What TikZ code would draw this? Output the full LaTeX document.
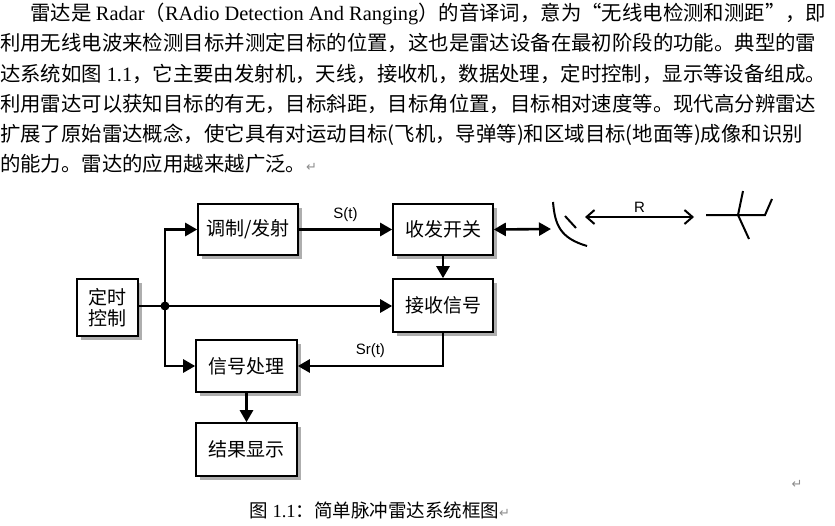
\documentclass[tikz,border=0pt]{standalone}
\usepackage{fontspec}
\setmainfont{Liberation Serif}
\newfontfamily\cjk{Noto Sans CJK SC}
\newfontfamily\dsans{Liberation Sans}
\newfontfamily\djv{DejaVu Sans}
\newcommand{\retmark}{{\djv\color{black!45}\fontsize{13}{15}\selectfont ↵}}
\usetikzlibrary{arrows.meta,shadows}
\begin{document}
\begin{tikzpicture}[x=1pt,y=-1pt,
  blk/.style={draw,line width=1.6pt,fill=white,minimum width=100pt,minimum height=51pt,inner sep=0pt,font=\cjk\fontsize{19}{22}\selectfont,
     drop shadow={shadow xshift=4pt,shadow yshift=-4pt,fill=black!45,opacity=0.7}},
  arr/.style={line width=2.6pt,-{Triangle[length=12pt,width=13pt]}},
  para/.style={anchor=base west,inner sep=0pt,font=\cjk\fontsize{20.4}{22}\selectfont},
  lbl/.style={font=\dsans\fontsize{15}{17}\selectfont,inner sep=0pt},
  ret/.style={text=black!45}]
\useasboundingbox (0,0) rectangle (835,525);
% paragraph
\node[para] (l1) at (30,20) {雷达是 {\rmfamily Radar}（{\rmfamily RAdio Detection And Ranging}）的音译词，意为“无线电检测和测距”，即};
\node[para] (l2) at (0,50) {利用无线电波来检测目标并测定目标的位置，这也是雷达设备在最初阶段的功能。典型的雷};
\node[para] (l3) at (0,81) {达系统如图 {\rmfamily 1.1}，它主要由发射机，天线，接收机，数据处理，定时控制，显示等设备组成。};
\node[para] (l4) at (0,111) {利用雷达可以获知目标的有无，目标斜距，目标角位置，目标相对速度等。现代高分辨雷达};
\node[para] (l5) at (0,141) {扩展了原始雷达概念，使它具有对运动目标(飞机，导弹等)和区域目标(地面等)成像和识别};
\node[para] (l6) at (0,171) {的能力。雷达的应用越来越广泛。\retmark};
% blocks
\node[blk,minimum width=61pt,minimum height=57pt,align=center,font=\cjk\fontsize{19}{21}\selectfont] (ds) at (107.5,307.5) {定时\\控制};
\node[blk] (tz) at (248,229.5) {调制/发射};
\node[blk] (sf) at (443,229.5) {收发开关};
\node[blk,minimum height=53pt] (js) at (443,305.5) {接收信号};
\node[blk,minimum width=101pt,minimum height=52pt] (xc) at (246.5,366) {信号处理};
\node[blk,minimum width=101pt,minimum height=53pt] (jg) at (246.5,449.5) {结果显示};
\coordinate (j) at (165,306);
\fill (j) circle (4.5pt);
\draw[line width=2.6pt] (ds.east|-j) -- (j);
\draw[arr] (j) -- (js.west|-j);
\draw[arr] (j) |- (tz.west);
\draw[arr] (j) |- (xc.west);
\draw[arr] (tz) -- node[lbl,above=7pt]{S(t)} (sf);
\draw[arr] (sf) -- (js);
\draw[arr] (js.south) |- node[lbl,pos=0.75,above=7pt]{Sr(t)} (xc.east);
\draw[arr] (xc) -- (jg);
% antenna
\coordinate (ant) at (551,229);
\draw[line width=2.6pt,{Triangle[length=12pt,width=13pt]}-{Triangle[length=12pt,width=13pt]}] (sf.east) -- (ant);
\draw[line width=2pt] (553,202) .. controls (555,225) and (560,238) .. (587,246);
\draw[line width=2pt] (565,216) -- (576,228);
\coordinate (ra) at (585,217);
\coordinate (rb) at (694,217);
\draw[line width=2pt,{Straight Barb[length=8pt,width=14pt]}-{Straight Barb[length=8pt,width=14pt]}] (ra) -- node[lbl,above=4pt]{R} (rb);
\draw[line width=2pt] (706,215) -- (765,215) -- (772,199);
\draw[line width=2pt] (743,191) -- (738,215) -- (749,239);
% caption
\node[anchor=base,inner sep=0pt,font=\cjk\fontsize{18.5}{20}\selectfont] (cap) at (380,517) {图 {\rmfamily 1.1}：简单脉冲雷达系统框图\retmark};
\node[inner sep=0pt] (r2) at (797,484) {\retmark};
\end{tikzpicture}
\end{document}
